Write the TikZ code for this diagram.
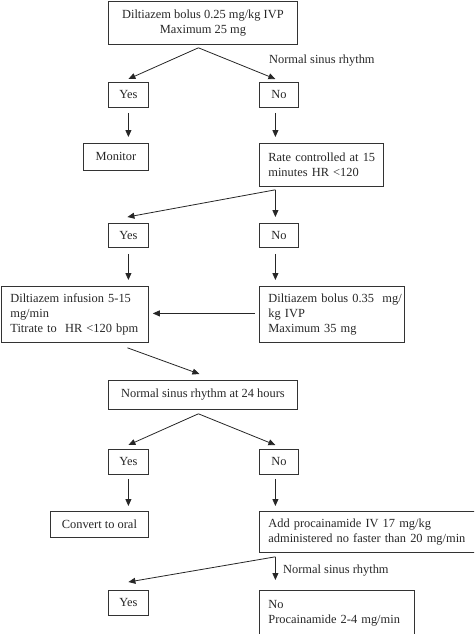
\documentclass[tikz,border=0pt]{standalone}
\usepackage{fontspec}
\setmainfont{Liberation Serif}
\usetikzlibrary{arrows.meta,calc}
\begin{document}
\begin{tikzpicture}[x=1pt,y=-1pt,
  txt/.style={font=\fontsize{12.4}{14.8}\selectfont, text=black!85},
  box/.style={txt, draw=black!80, line width=0.8pt, inner sep=0pt, anchor=north west, align=center},
  lbox/.style={box, align=left, inner xsep=9pt},
  arr/.style={draw=black!85, line width=0.8pt, -{Triangle[length=7pt,width=6pt]}}]
\useasboundingbox (0,0) rectangle (474,634);
\clip (0,0) rectangle (474,634);
% boxes
\node[box, minimum width=189, minimum height=43] (top) at (108,1) {Diltiazem bolus 0.25 mg/kg IVP\\Maximum 25 mg};
\node[box, minimum width=40, minimum height=25] (yes1) at (108,82) {Yes};
\node[box, minimum width=39, minimum height=25] (no1) at (259,82) {No};
\node[box, minimum width=65, minimum height=27] (mon) at (83,143) {Monitor};
\node[lbox, text width=106, minimum width=124, minimum height=43] (rate) at (259,143) {\mbox{Rate controlled at 15}\\\mbox{minutes HR \textless120}};
\node[box, minimum width=40, minimum height=24] (yes2) at (108,223) {Yes};
\node[box, minimum width=39, minimum height=24] (no2) at (259,223) {No};
\node[lbox, text width=129, minimum width=147, minimum height=56] (inf) at (1,286) {\mbox{Diltiazem infusion 5-15}\\\mbox{mg/min}\\\mbox{Titrate to\ \ HR \textless120 bpm}};
\node[lbox, text width=127, minimum width=145, minimum height=56] (bol) at (259,286) {\mbox{Diltiazem bolus 0.35\ \ mg/}\\\mbox{kg IVP}\\\mbox{Maximum 35 mg}};
\node[box, minimum width=189, minimum height=29] (nsr) at (108,380) {Normal sinus rhythm at 24 hours};
\node[box, minimum width=40, minimum height=25] (yes3) at (108,449) {Yes};
\node[box, minimum width=39, minimum height=25] (no3) at (259,449) {No};
\node[box, minimum width=98, minimum height=26] (conv) at (50,511) {Convert to oral};
\node[lbox, text width=203, minimum width=221, minimum height=41] (proc) at (259,511) {\mbox{Add procainamide IV 17 mg/kg}\\\mbox{administered no faster than 20 mg/min}};
\node[box, minimum width=40, minimum height=25] (yes4) at (108,590) {Yes};
\node[lbox, text width=137, minimum width=155, minimum height=46] (no4) at (259,590) {\mbox{No}\\\mbox{Procainamide 2-4 mg/min}};
% labels
\node[txt, anchor=west, inner sep=0pt] (lab1) at (269,61) {Normal sinus rhythm};
\node[txt, anchor=west, inner sep=0pt] (lab2) at (283,571) {Normal sinus rhythm};
% arrows
\draw[arr] ($(top.south)+(-4.5,3)$) -- ($(yes1.north)+(0,-3)$);
\draw[arr] ($(top.south)+(-4.5,3)$) -- ($(no1.north)+(-3.5,-3)$);
\draw[arr] ($(yes1.south)+(0,5)$) -- ($(yes1.south |- mon.north)+(0,-6)$);
\draw[arr] ($(no1.south)+(-3.5,5)$) -- ($(no1.south |- rate.north)+(-3.5,-6)$);
\draw[arr] ($(rate.south)+(-46,3)$) -- ($(yes2.north)+(-1,-6)$);
\draw[arr] ($(rate.south)+(-46,3)$) -- ($(no2.north)+(-3.5,-6)$);
\draw[arr] ($(yes2.south)+(0,6)$) -- ($(yes2.south |- inf.north)+(0,-6)$);
\draw[arr] ($(no2.south)+(-3.5,6)$) -- ($(no2.south |- bol.north)+(-3.5,-6)$);
\draw[arr] ($(bol.west)+(-4,-1)$) -- ($(inf.east)+(4,-1)$);
\draw[arr] ($(inf.south)+(52.5,5)$) -- ($(nsr.north)+(-3.5,-6)$);
\draw[arr] ($(nsr.south)+(-4.5,4)$) -- ($(yes3.north)+(0,-4)$);
\draw[arr] ($(nsr.south)+(-4.5,4)$) -- ($(no3.north)+(-3.5,-4)$);
\draw[arr] ($(yes3.south)+(0,4)$) -- ($(yes3.south |- conv.north)+(0,-5)$);
\draw[arr] ($(no3.south)+(-3.5,4)$) -- ($(no3.south |- proc.north)+(-3.5,-5)$);
\draw[arr] ($(proc.south)+(-94.5,4)$) -- ($(yes4.north)+(0,-8)$);
\draw[arr] ($(proc.south)+(-94.5,4)$) -- ($(no3.south |- no4.north)+(-3.5,-10)$);
\end{tikzpicture}
\end{document}
